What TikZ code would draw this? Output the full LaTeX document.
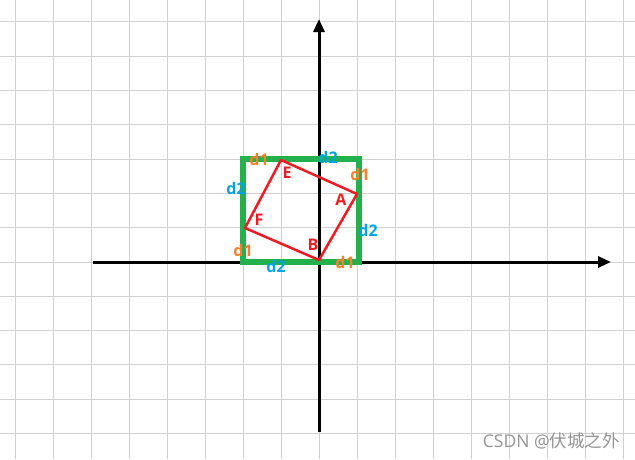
\documentclass[tikz,border=0pt]{standalone}
\usepackage{fontspec}
\setmainfont{Open Sans}
\newfontfamily\cjk{Noto Sans CJK SC}
\usetikzlibrary{arrows.meta}
\definecolor{gridc}{HTML}{D0D0D0}
\definecolor{redc}{HTML}{ED1C24}
\definecolor{greenc}{HTML}{22B14C}
\definecolor{orangec}{HTML}{FF7F27}
\definecolor{bluec}{HTML}{00A2E8}
\tikzset{
  gridline/.style={draw=gridc, line width=1pt},
  axis/.style={draw=black, line width=3pt, -{Triangle[length=13pt,width=11pt]}},
  vlab/.style={text=redc, font=\bfseries\fontsize{16}{16}\selectfont, inner sep=0pt},
  done/.style={text=orangec, font=\bfseries\fontsize{16}{16}\selectfont, inner sep=0pt},
  dtwo/.style={text=bluec, font=\bfseries\fontsize{16}{16}\selectfont, inner sep=0pt},
}
\begin{document}
\begin{tikzpicture}[x=1pt,y=-1pt]
\useasboundingbox (0,0) rectangle (635,459);
\fill[white] (0,0) rectangle (635,459);
% grid
\foreach \k in {0,...,16} {
  \draw[gridline] ({15.5+38*\k},0) -- ({15.5+38*\k},459);
}
\foreach \k in {-7,...,5} {
  \draw[gridline] (0,{262+34.3*\k}) -- (635,{262+34.3*\k});
}
% axes
\coordinate (xs) at (93,262);
\coordinate (xe) at (611,262);
\coordinate (ys) at (319,432);
\coordinate (ye) at (319,19);
\draw[axis] (xs) -- (xe);
\draw[axis] (ys) -- (ye);
% green square
\coordinate (g1) at (243,159);
\coordinate (g2) at (359,262);
\draw[greenc, line width=6pt] (g1) rectangle (g2);
% red quadrilateral
\coordinate (E) at (281,160);
\coordinate (A) at (357,194);
\coordinate (B) at (319,260);
\coordinate (F) at (245,228);
\draw[redc, line width=2.5pt, line join=round] (E) -- (A) -- (B) -- (F) -- cycle;
% vertex labels
\node[vlab] (lE) at (287,173) {E};
\node[vlab] (lA) at (341,200) {A};
\node[vlab] (lB) at (313,245) {B};
\node[vlab] (lF) at (259,220) {F};
% d1 labels
\node[done] (a1) at (259,159) {d1};
\node[done] (a2) at (360,174) {d1};
\node[done] (a3) at (243,250) {d1};
\node[done] (a4) at (345,262) {d1};
% d2 labels
\node[dtwo] (b1) at (328,157) {d2};
\node[dtwo] (b2) at (236,188) {d2};
\node[dtwo] (b3) at (368,230) {d2};
\node[dtwo] (b4) at (276,266) {d2};
% watermark
\node[anchor=east, text=black!42, font=\fontsize{17.5}{18}\selectfont, inner sep=0pt] (wm) at (620,441) {CSDN @{\cjk 伏城之外}};
\end{tikzpicture}
\end{document}
